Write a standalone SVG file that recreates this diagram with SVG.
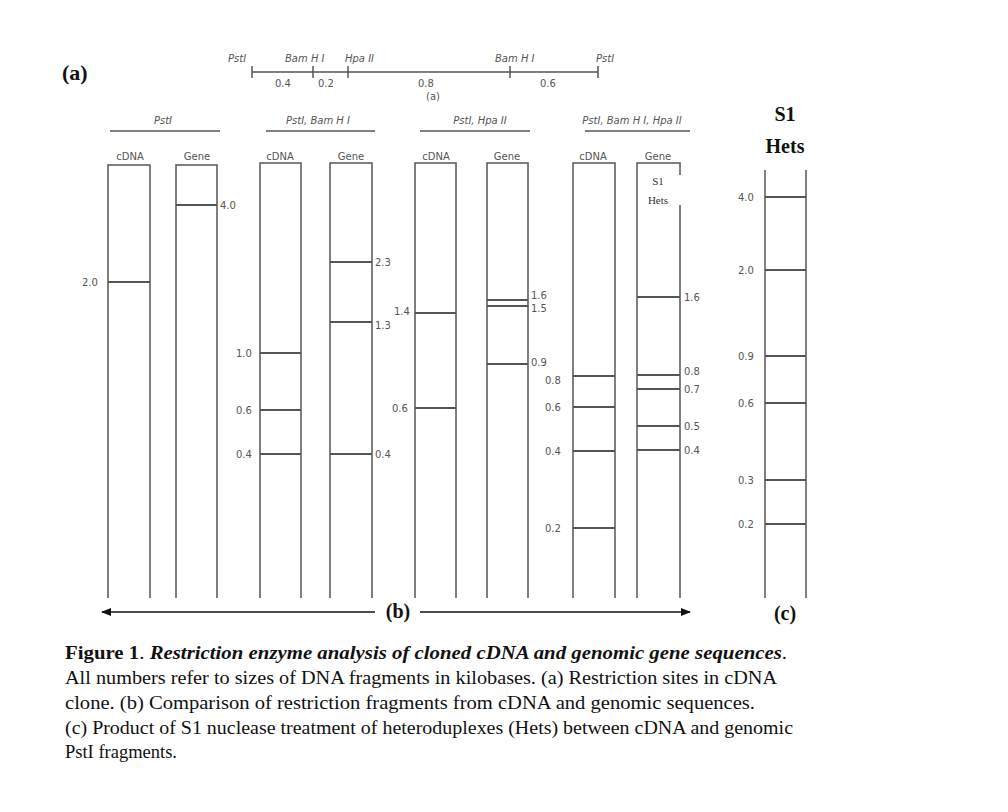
<svg xmlns="http://www.w3.org/2000/svg" width="1008" height="812" viewBox="0 0 1008 812">
<style>
.s{font-family:"DejaVu Sans",sans-serif;font-size:10px;fill:#555}
.h{font-family:"DejaVu Sans",sans-serif;font-size:10px;fill:#555;font-style:italic}
.l{stroke:#555;stroke-width:1.5;fill:none}
.b{stroke:#555;stroke-width:2}
.c{font-family:"Liberation Serif",serif;font-size:19px;fill:#111}
.t{font-family:"Liberation Serif",serif;font-weight:bold;fill:#111}
</style>
<rect width="1008" height="812" fill="#fff"/>
<text class="t" x="62" y="80" font-size="22">(a)</text>
<g id="map">
<path class="l" d="M252 72H598M252 66V78M313 66V78M348 66V78M510 66V78M598 66V78"/>
<text class="h" x="228" y="62">PstI</text><text class="h" x="285" y="62">Bam H I</text><text class="h" x="345" y="62">Hpa II</text>
<text class="h" x="495" y="62">Bam H I</text><text class="h" x="596" y="62">PstI</text>
<text class="s" x="275" y="87">0.4</text><text class="s" x="318" y="87">0.2</text><text class="s" x="418" y="87">0.8</text><text class="s" x="540" y="87">0.6</text>
<text class="s" x="426" y="100">(a)</text>
</g>
<g id="headers">
<text class="h" x="163" y="124" text-anchor="middle">PstI</text><path class="l" d="M110 131H220"/>
<text class="h" x="318" y="124" text-anchor="middle">PstI, Bam H I</text><path class="l" d="M266 131H375"/>
<text class="h" x="480" y="124" text-anchor="middle">PstI, Hpa II</text><path class="l" d="M420 131H530"/>
<text class="h" x="632" y="124" text-anchor="middle">PstI, Bam H I, Hpa II</text><path class="l" d="M585 131H690"/>
<text class="s" x="130" y="160" text-anchor="middle">cDNA</text><text class="s" x="197" y="160" text-anchor="middle">Gene</text>
<text class="s" x="280" y="160" text-anchor="middle">cDNA</text><text class="s" x="351" y="160" text-anchor="middle">Gene</text>
<text class="s" x="436" y="160" text-anchor="middle">cDNA</text><text class="s" x="507" y="160" text-anchor="middle">Gene</text>
<text class="s" x="593" y="160" text-anchor="middle">cDNA</text><text class="s" x="658" y="160" text-anchor="middle">Gene</text>
<text class="t" x="785" y="121" font-size="20" text-anchor="middle">S1</text>
<text class="t" x="785" y="153" font-size="20" text-anchor="middle">Hets</text>
</g>
<g id="lanes">
<path class="l" d="M108 598V165H150V598M176 598V165H217V598M260 598V163H301V598M330 598V163H372V598M415 598V163H456V598M487 598V163H528V598M573 598V163H615V598M637 598V163H680V175"/>
<path class="l" d="M680 205V598M765 170V598M806 170V598"/>
<text x="658" y="185" font-family="Liberation Serif,serif" font-size="11" fill="#333" text-anchor="middle">S1</text>
<text x="658" y="204" font-family="Liberation Serif,serif" font-size="11" fill="#333" text-anchor="middle">Hets</text>
</g>
<g id="bands">
<path class="b" d="M108 282H150M176 205H217M260 353H301M260 410H301M260 454H301M330 262H372M330 322H372M330 454H372M415 313H456M415 408H456M487 300H528M487 306H528M487 364H528M573 376H615M573 407H615M573 451H615M573 528H615M637 297H680M637 375H680M637 389H680M637 426H680M637 450H680M765 197H806M765 270H806M765 356H806M765 403H806M765 480H806M765 524H806"/>
<text class="s" x="82" y="286">2.0</text><text class="s" x="220" y="209">4.0</text>
<text class="s" x="236" y="357">1.0</text><text class="s" x="236" y="414">0.6</text><text class="s" x="236" y="458">0.4</text>
<text class="s" x="375" y="266">2.3</text><text class="s" x="375" y="329">1.3</text><text class="s" x="375" y="458">0.4</text>
<text class="s" x="394" y="315">1.4</text><text class="s" x="392" y="412">0.6</text>
<text class="s" x="531" y="299">1.6</text><text class="s" x="531" y="312">1.5</text><text class="s" x="531" y="366">0.9</text>
<text class="s" x="545" y="384">0.8</text><text class="s" x="545" y="411">0.6</text><text class="s" x="545" y="455">0.4</text><text class="s" x="545" y="532">0.2</text>
<text class="s" x="684" y="301">1.6</text><text class="s" x="684" y="375">0.8</text><text class="s" x="684" y="393">0.7</text><text class="s" x="684" y="430">0.5</text><text class="s" x="684" y="454">0.4</text>
<text class="s" x="738" y="201">4.0</text><text class="s" x="738" y="274">2.0</text><text class="s" x="738" y="360">0.9</text><text class="s" x="738" y="407">0.6</text><text class="s" x="738" y="484">0.3</text><text class="s" x="738" y="528">0.2</text>
</g>
<defs><marker id="a" markerWidth="10" markerHeight="8" refX="9" refY="4" orient="auto-start-reverse" markerUnits="userSpaceOnUse"><path d="M0 0L10 4L0 8z" fill="#111"/></marker></defs>
<g id="connectors">
<path d="M375 612H102" stroke="#111" stroke-width="1.5" marker-end="url(#a)"/>
<path d="M420 612H690" stroke="#111" stroke-width="1.5" marker-end="url(#a)"/>
</g>
<text class="t" x="398" y="618" font-size="20" text-anchor="middle">(b)</text>
<text class="t" x="785" y="620" font-size="20" text-anchor="middle">(c)</text>
<g id="caption">
<text class="c" x="65" y="659" textLength="722" lengthAdjust="spacingAndGlyphs"><tspan font-weight="bold">Figure 1</tspan>. <tspan font-weight="bold" font-style="italic">Restriction enzyme analysis of cloned cDNA and genomic gene sequences</tspan>.</text>
<text class="c" x="65" y="684" textLength="712" lengthAdjust="spacingAndGlyphs">All numbers refer to sizes of DNA fragments in kilobases. (a) Restriction sites in cDNA</text>
<text class="c" x="65" y="709" textLength="690" lengthAdjust="spacingAndGlyphs">clone. (b) Comparison of restriction fragments from cDNA and genomic sequences.</text>
<text class="c" x="65" y="734" textLength="728" lengthAdjust="spacingAndGlyphs">(c) Product of S1 nuclease treatment of heteroduplexes (Hets) between cDNA and genomic</text>
<text class="c" x="65" y="758" textLength="112" lengthAdjust="spacingAndGlyphs">PstI fragments.</text>
</g>
</svg>
